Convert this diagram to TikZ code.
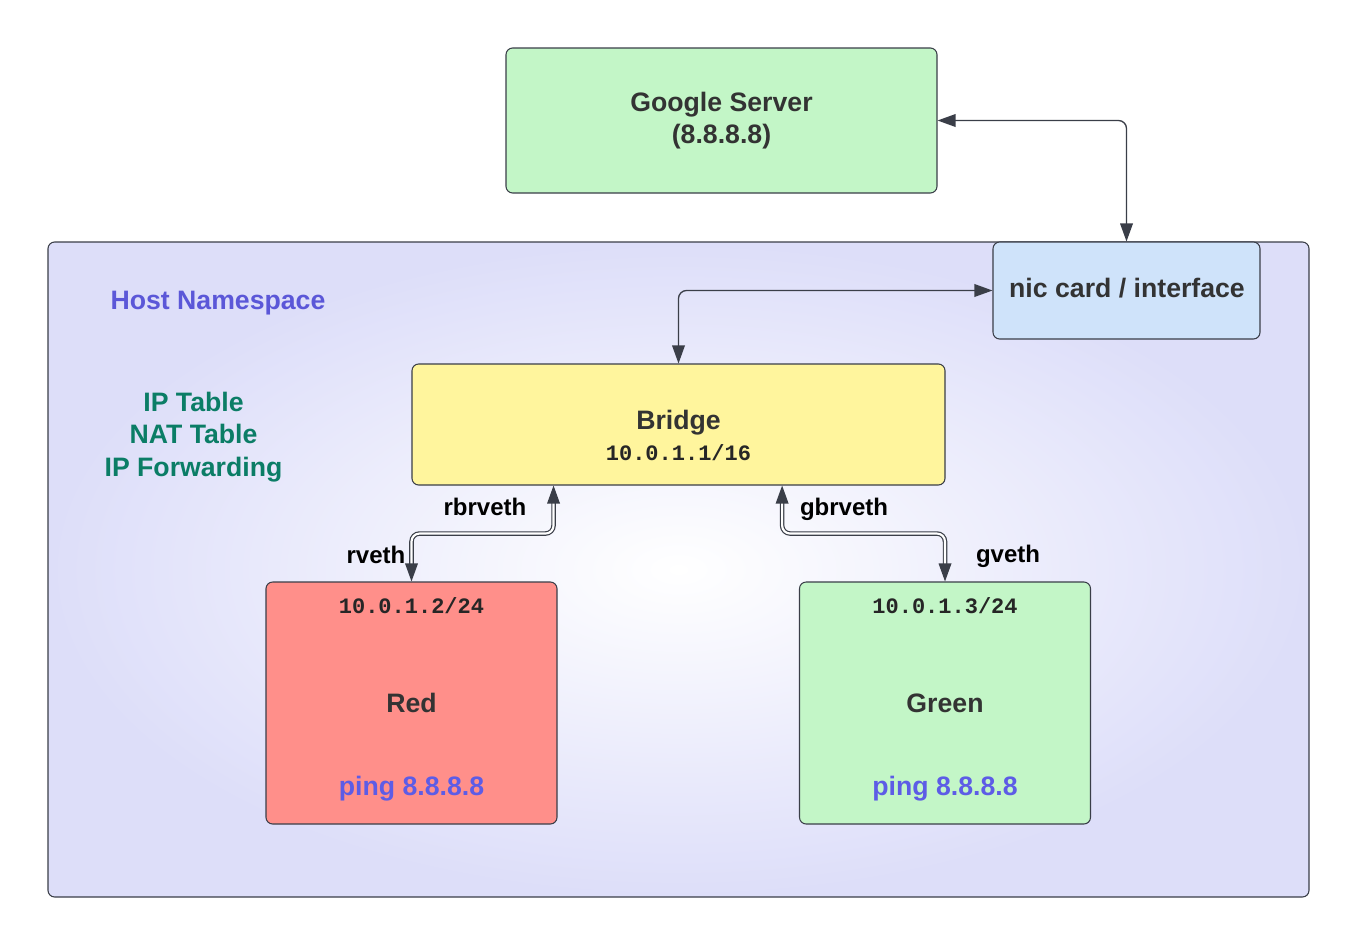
\documentclass[tikz,border=0pt]{standalone}
\usepackage{xcolor}
\usepackage{fontspec}
\setmainfont{Liberation Sans}
\setmonofont{Liberation Mono}
\usepackage{tikz}
\usetikzlibrary{arrows.meta,calc,positioning}

\definecolor{edgegray}{RGB}{58,62,72}
\definecolor{txtgray}{RGB}{51,51,51}
\definecolor{servgreen}{RGB}{195,246,199}
\definecolor{nicblue}{RGB}{207,227,250}
\definecolor{bridgeyel}{RGB}{255,245,157}
\definecolor{redfill}{RGB}{255,143,138}
\definecolor{hostlav}{RGB}{221,222,249}
\definecolor{hostblue}{RGB}{91,87,216}
\definecolor{pingblue}{RGB}{93,92,230}
\definecolor{natteal}{RGB}{11,125,102}

\begin{document}
\begin{tikzpicture}[x=0.75pt,y=-0.75pt,>={Triangle[length=13.5pt,width=9.5pt]},
  box/.style={draw=edgegray,line width=0.8pt,rounded corners=5pt,inner sep=0pt,
    text=txtgray,font=\fontsize{20}{24}\selectfont\bfseries,align=center},
  boxtext/.style={text=txtgray,font=\fontsize{20}{24}\selectfont\bfseries,anchor=base},
  iptext/.style={text=black!85,font=\fontsize{16.5}{20}\selectfont\ttfamily\bfseries,anchor=base},
  pingtext/.style={text=pingblue,font=\fontsize{20}{24}\selectfont\bfseries,anchor=base},
  vethlabel/.style={text=black,font=\fontsize{18}{22}\selectfont\bfseries,anchor=base},
  link/.style={draw=edgegray,line width=1pt,rounded corners=6pt},
  vlink/.style={draw=edgegray,line width=0.9pt,double=white,double distance=1.6pt,rounded corners=6pt}]
  \useasboundingbox (0,0) rectangle (1358,946);

  % host namespace background
  \node[box,shading=radial,inner color=white,outer color=hostlav,
    minimum width=945.75pt,minimum height=491.25pt] (host) at (678.5,569.5) {};
  \node[text=hostblue,font=\fontsize{20}{24}\selectfont\bfseries,anchor=base] (hostname) at (218,309.5) {Host Namespace};
  \node[text=natteal,font=\fontsize{20}{24.5}\selectfont\bfseries,align=center] (tables) at (193.5,437) {IP Table\\NAT Table\\IP Forwarding};

  % boxes
  \node[box,fill=servgreen,minimum width=323.25pt,minimum height=108.75pt] (google) at (721.5,120.5) {Google Server\\(8.8.8.8)};
  \node[box,fill=nicblue,minimum width=200.25pt,minimum height=72.75pt] (nic) at (1126.5,290.5) {};
  \node[boxtext] (nicname) at (1127,297) {nic card / interface};
  \node[box,fill=bridgeyel,minimum width=399.75pt,minimum height=90.75pt] (bridge) at (678.5,424.5) {};
  \node[boxtext] (bridgename) at (678.5,429.5) {Bridge};
  \node[iptext] (bridgeip) at (678.5,460) {10.0.1.1/16};

  \node[box,fill=redfill,minimum width=218.25pt,minimum height=181.5pt] (red) at (411.5,703) {Red};
  \node[iptext] (redip) at (411.5,613) {10.0.1.2/24};
  \node[pingtext] (redping) at (411.5,795) {ping 8.8.8.8};

  \node[box,fill=servgreen,minimum width=218.25pt,minimum height=181.5pt] (green) at (945,703) {Green};
  \node[iptext] (greenip) at (945,613) {10.0.1.3/24};
  \node[pingtext] (greenping) at (945,795) {ping 8.8.8.8};

  % veth ends on the bridge
  \coordinate (rbr) at ($(bridge.south west)!0.266!(bridge.south east)$);
  \coordinate (gbr) at ($(bridge.south west)!0.694!(bridge.south east)$);

  % connectors
  \draw[link,<->] (google.east) -| (nic.north);
  \draw[link,<->] (nic.west) -| (bridge.north);
  \draw[vlink,<->] (rbr) -- ++(0,48) -| (red.north);
  \draw[vlink,<->] (gbr) -- ++(0,48) -| (green.north);

  % veth labels
  \node[vethlabel] (rbrveth) at (485,515) {rbrveth};
  \node[vethlabel] (rveth) at (376,563) {rveth};
  \node[vethlabel] (gbrveth) at (844,515) {gbrveth};
  \node[vethlabel] (gveth) at (1008,562) {gveth};
\end{tikzpicture}
\end{document}
